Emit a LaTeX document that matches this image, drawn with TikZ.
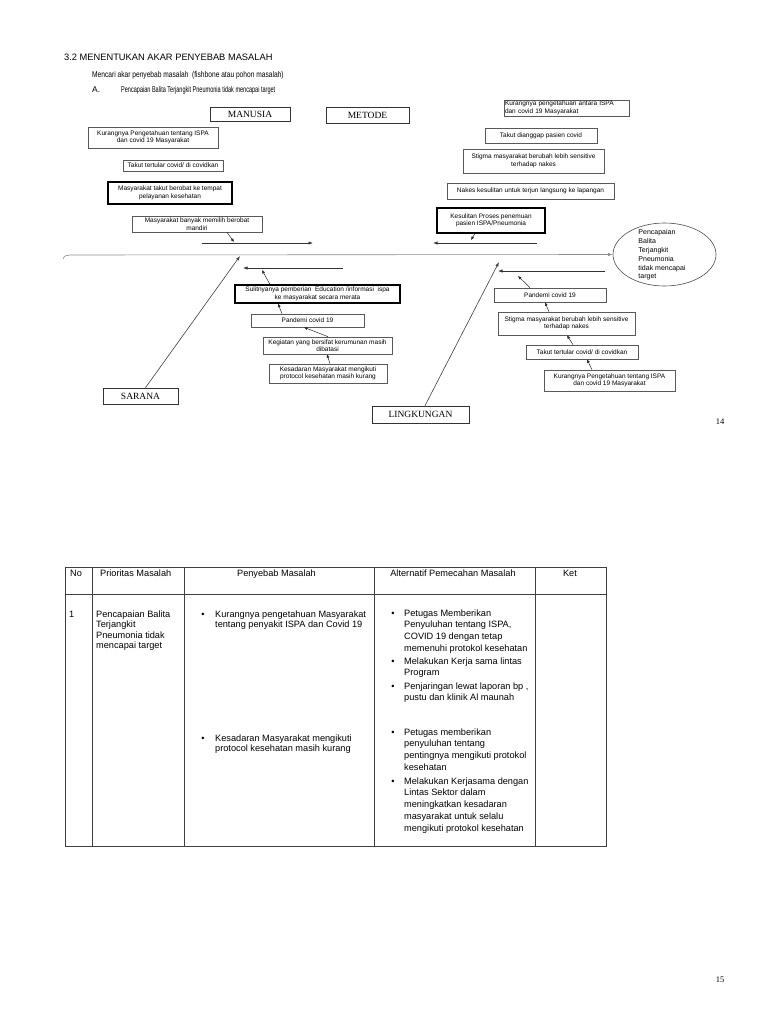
\documentclass[tikz,border=0pt]{standalone}
\usepackage{graphicx}
\usepackage{fontspec}
\setmainfont{Liberation Sans}
\newfontfamily\serifx{Liberation Serif}
\usetikzlibrary{arrows.meta,shapes.geometric}
\newcommand\fs[2]{\fontsize{#1}{#2}\selectfont}
\begin{document}
\begin{tikzpicture}[x=1pt,y=-1pt,
  bx/.style={draw=black!65, line width=0.6pt, inner sep=1pt, align=center, font=\fs{6.5}{7.4}},
  tbx/.style={bx, draw=black, line width=1.1pt},
  cat/.style={draw=black!80, line width=0.7pt, inner sep=0pt, font=\serifx\fs{9.5}{10}},
  arr/.style={-{Latex[length=4.5pt,width=3.2pt]}, line width=0.6pt, black!80},
  sarr/.style={-{Latex[length=3.5pt,width=3pt]}, line width=0.5pt, black!85},
  tline/.style={line width=0.9pt, black!75},
  ttext/.style={font=\fs{9.2}{11.8}, inner sep=0pt, align=left, anchor=base west},
  ttop/.style={ttext, anchor=north west},
  plain/.style={inner sep=0pt, anchor=base west},
]
\useasboundingbox (0,0) rectangle (768,1024);
\fill[white] (0,0) rectangle (768,1024);

% ---------- headings ----------
\node[plain, font=\fs{9.3}{10}] (title) at (64,61) {3.2 MENENTUKAN AKAR PENYEBAB MASALAH};
\node[plain] (sub) at (92,77.5) {\scalebox{0.79}[1]{\fs{8.4}{9}Mencari akar penyebab masalah~ (fishbone atau pohon masalah)}};
\node[plain] (Alab) at (92,93) {\fs{8.4}{9}A.};
\node[plain] (Atext) at (121,93) {\scalebox{0.66}[1]{\fs{8.4}{9}Pencapaian Balita Terjangkit Pneumonia tidak mencapai target}};

% ---------- category boxes ----------
\node[cat, minimum width=80, minimum height=14] (MAN) at (250,114) {MANUSIA};
\node[cat, minimum width=83, minimum height=16] (MET) at (367.5,115) {METODE};
\node[cat, minimum width=75, minimum height=16] (SAR) at (140.5,396) {SARANA};
\node[cat, minimum width=97, minimum height=17] (LIN) at (420.5,414.5) {LINGKUNGAN};

% ---------- upper left causes ----------
\node[bx, minimum width=130, minimum height=21] (L1) at (153,137.5) {Kurangnya Pengetahuan tentang ISPA\\dan covid 19 Masyarakat};
\node[bx, minimum width=100, minimum height=11] (L2) at (173,165.5) {Takut tertular covid/ di covidkan};
\node[tbx, minimum width=124, minimum height=22] (L3) at (170,193) {Masyarakat takut berobat ke tempat\\pelayanan kesehatan};
\node[bx, minimum width=130, minimum height=16] (L4) at (197,224) {Masyarakat banyak memilih berobat\\mandiri};
\coordinate (hLa) at (202,243);
\coordinate (hLb) at (313,243);
\coordinate (kL4) at (234,242);
\draw[arr] (hLa) -- (hLb);
\draw[sarr] ([xshift=30pt]L4.south) -- (kL4);

% ---------- upper right causes ----------
\node[bx, align=left, text width=123, minimum height=16] (R1) at (566.5,108) {Kurangnya pengetahuan antara ISPA\\dan covid 19 Masyarakat};
\node[bx, minimum width=112, minimum height=15] (R2) at (541,135.5) {Takut dianggap pasien covid};
\node[bx, minimum width=141, minimum height=24] (R3) at (533.5,161) {Stigma masyarakat berubah lebih sensitive\\terhadap nakes};
\node[bx, minimum width=167, minimum height=16] (R4) at (530.5,191) {Nakes kesulitan untuk terjun langsung ke lapangan};
\node[tbx, minimum width=108, minimum height=25] (R5) at (491,220.5) {Kesulitan Proses penemuan\\pasien ISPA/Pneumonia};
\coordinate (hRa) at (537,243);
\coordinate (hRb) at (433,243);
\coordinate (kR5) at (471,240);
\draw[arr] (hRa) -- (hRb);
\draw[sarr] ([xshift=-16pt]R5.south) -- (kR5);

% ---------- head (effect) ----------
\node[draw=black!70, line width=0.6pt, ellipse, minimum width=103, minimum height=63, inner sep=0pt] (E) at (664.5,254.5) {};
\node[inner sep=0pt, align=left, font=\fs{7}{8.8}] (Et) at (662,255) {Pencapaian\\Balita\\Terjangkit\\Pneumonia\\tidak mencapai\\target};

% ---------- spine ----------
\coordinate (sp0) at (63,259);
\draw[arr, black!45] (sp0) .. controls (64,256) .. (70,255) -- (E.west);

% ---------- main bones ----------
\coordinate (jL) at (240,256);
\coordinate (jR) at (499,262);
\draw[arr, black!75] ([xshift=5pt]SAR.north) -- (jL);
\draw[arr, black!75] ([xshift=4.5pt]LIN.north) -- (jR);

% ---------- lower left causes ----------
\node[tbx, minimum width=165, minimum height=18] (LL1) at (317.5,294) {Sulitnyanya pemberian~ Education /informasi~ ispa\\ke masyarakat secara merata};
\node[bx, minimum width=113, minimum height=13] (LL2) at (307.5,320.5) {Pandemi covid 19};
\node[bx, minimum width=129, minimum height=17] (LL3) at (327.5,345.5) {Kegiatan yang bersifat kerumunan masih\\dibatasi};
\node[bx, minimum width=118, minimum height=19] (LL4) at (328,373.5) {Kesadaran Masyarakat mengikuti\\protocol kesehatan masih kurang};
\coordinate (hLc) at (343,268);
\coordinate (hLd) at (243,268);
\coordinate (kLL1) at (262,270);
\draw[arr] (hLc) -- (hLd);
\draw[sarr] ([xshift=-47.5pt]LL1.north) -- (kLL1);
\draw[sarr] ([xshift=-25.5pt]LL2.north) -- ([xshift=-39.5pt]LL1.south);
\draw[sarr] ([xshift=0.5pt]LL3.north) -- ([xshift=-3.5pt]LL2.south);
\draw[sarr] ([xshift=2pt]LL4.north) -- ([xshift=-0.5pt]LL3.south);

% ---------- lower right causes ----------
\node[bx, minimum width=112, minimum height=14] (LR1) at (550,295) {Pandemi covid 19};
\node[bx, minimum width=137, minimum height=23] (LR2) at (566.5,323.5) {Stigma masyarakat berubah lebih sensitive\\terhadap nakes};
\node[bx, minimum width=112, minimum height=14] (LR3) at (582,352) {Takut tertular covid/ di covidkan};
\node[bx, minimum width=131, minimum height=21] (LR4) at (609.5,380.5) {Kurangnya Pengetahuan tentang ISPA\\dan covid 19 Masyarakat};
\coordinate (hRc) at (605,271);
\coordinate (hRd) at (498,271);
\coordinate (kLR1) at (518,276);
\draw[arr] (hRc) -- (hRd);
\draw[sarr] ([xshift=-20pt]LR1.north) -- (kLR1);
\draw[sarr] ([xshift=-17.5pt]LR2.north) -- ([xshift=-5pt]LR1.south);
\draw[sarr] ([xshift=-9pt]LR3.north) -- ([xshift=0.5pt]LR2.south);
\draw[sarr] ([xshift=-17.5pt]LR4.north) -- ([xshift=5pt]LR3.south);

% ---------- page numbers ----------
\node[font=\serifx\fs{8.5}{9}, inner sep=0pt] (p14) at (720,422) {14};
\node[font=\serifx\fs{8.5}{9}, inner sep=0pt] (p15) at (720,980) {15};

% ---------- table ----------
\draw[tline] (65,567) rectangle (606,846);
\draw[tline] (65,594) -- (606,594);
\foreach \cx in {92,184,374,535} \draw[tline] (\cx,567) -- (\cx,846);

\node[ttext] (hNo) at (70,576) {No};
\node[ttext] (hPr) at (100,576) {Prioritas Masalah};
\node[ttext, anchor=base] (hPe) at (276.5,576) {Penyebab Masalah};
\node[ttext, anchor=base] (hAl) at (453,576) {Alternatif Pemecahan Masalah};
\node[ttext, anchor=base] (hKe) at (570,576) {Ket};

\node[ttext] (n1) at (69,617) {1};
\node[ttop, font=\fs{9.2}{10.5}] (prio) at (96,610.3) {Pencapaian Balita\\Terjangkit\\Pneumonia tidak\\mencapai target};

\node[ttext, anchor=base] (b1) at (203,617) {\textbullet};
\node[ttop, font=\fs{9.2}{10.5}] (c1) at (215,610.3) {Kurangnya pengetahuan Masyarakat\\tentang penyakit ISPA dan Covid 19};
\node[ttext, anchor=base] (b2) at (203,741) {\textbullet};
\node[ttop, font=\fs{9.2}{10.5}] (c2) at (215,734.3) {Kesadaran Masyarakat mengikuti\\protocol kesehatan masih kurang};

\node[ttext, anchor=base] (b3) at (393,616) {\textbullet};
\node[ttop] (a1) at (404,609.3) {Petugas Memberikan\\Penyuluhan tentang ISPA,\\COVID 19 dengan tetap\\memenuhi protokol kesehatan};
\node[ttext, anchor=base] (b4) at (393,664) {\textbullet};
\node[ttop] (a2) at (404,657.3) {Melakukan Kerja sama lintas\\Program};
\node[ttext, anchor=base] (b5) at (393,689) {\textbullet};
\node[ttop] (a3) at (404,682.3) {Penjaringan lewat laporan bp ,\\pustu dan klinik Al maunah};

\node[ttext, anchor=base] (b6) at (393,735) {\textbullet};
\node[ttop] (a4) at (404,728.3) {Petugas memberikan\\penyuluhan tentang\\pentingnya mengikuti protokol\\kesehatan};
\node[ttext, anchor=base] (b7) at (393,784) {\textbullet};
\node[ttop] (a5) at (404,777.3) {Melakukan Kerjasama dengan\\Lintas Sektor dalam\\meningkatkan kesadaran\\masyarakat untuk selalu\\mengikuti protokol kesehatan};
\end{tikzpicture}
\end{document}
